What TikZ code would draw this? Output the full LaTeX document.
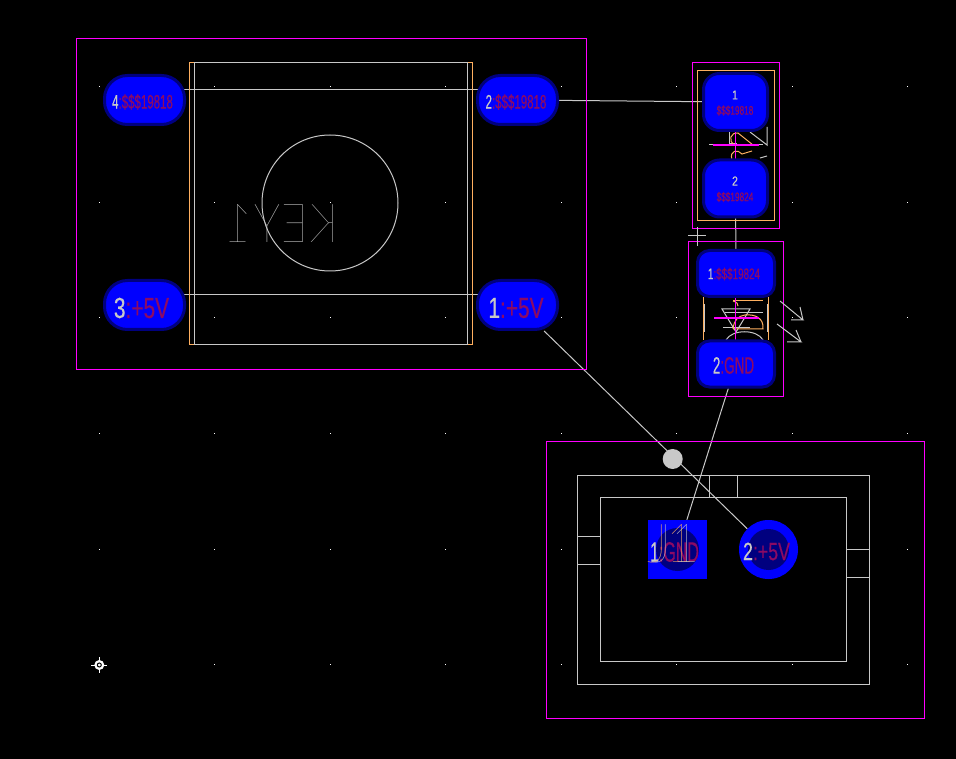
\documentclass[tikz,border=0pt]{standalone}
\usepackage{graphicx}
\usepackage{fontspec}
\setmainfont[FakeBold=0.4]{Liberation Sans}
\newfontfamily\thinfont{Lato Thin}
\usetikzlibrary{backgrounds}

\definecolor{padblue}{HTML}{0000FF}
\definecolor{padnavy}{HTML}{00007F}
\definecolor{silk}{HTML}{C8C8C8}
\definecolor{outline}{HTML}{FF00FF}
\definecolor{body}{HTML}{FFB060}
\definecolor{netred}{HTML}{8C0A64}

\tikzstyle{pad}=[draw=padnavy,fill=padblue,line width=3pt,inner sep=0pt]
\tikzstyle{bigpad}=[pad,minimum width=80pt,minimum height=49pt,rounded corners=23pt]
\tikzstyle{smdpad}=[pad,minimum width=64pt,minimum height=57pt,rounded corners=16pt]
\tikzstyle{ledpad}=[pad,minimum width=77pt,minimum height=46pt,rounded corners=12pt]
\tikzstyle{pintext}=[inner sep=0pt,text=silk]
\tikzstyle{wire}=[draw=silk,line width=1pt]
\tikzstyle{silkline}=[draw=silk,line width=1pt]
\tikzstyle{bodyline}=[draw=body,line width=1pt]
\tikzstyle{keepout}=[draw=outline,line width=1.1pt]

% size, x scale, pin, net
\newcommand{\pinnet}[4]{\scalebox{#2}[1]{\fontsize{#1}{#1}\selectfont #3\textcolor{netred}{:#4}}}
\newcommand{\netonly}[3]{\scalebox{#2}[1]{\fontsize{#1}{#1}\selectfont\textcolor{netred}{#3}}}

\begin{document}
\begin{tikzpicture}[x=1pt,y=-1pt]
  \useasboundingbox (0,0) rectangle (956,759);

  % KEY1 pads
  \node (k4) at (144.5,100) [bigpad] {};
  \node (k2) at (517.5,100) [bigpad] {};
  \node (k3) at (144.5,305) [bigpad] {};
  \node (k1) at (517.5,305) [bigpad] {};
  % resistor pads
  \node (r1) at (735.5,102) [smdpad] {};
  \node (r2) at (735.5,188.5) [smdpad] {};
  % led pads
  \node (d1) at (736,273.5) [ledpad] {};
  \node (d2) at (736,364) [ledpad] {};
  % connector pads
  \node (j1) at (677.5,549.5) [fill=padblue,minimum size=59pt,inner sep=0pt] {};
  \node (j2) at (768.5,549.5) [circle,fill=padblue,minimum size=59pt,inner sep=0pt] {};
  \node (j1h) at (j1) [circle,fill=padnavy,minimum size=43pt,inner sep=0pt] {};
  \node (j2h) at (j2) [circle,fill=padnavy,minimum size=41pt,inner sep=0pt] {};

  \begin{pgfonlayer}{background}
    \fill[black] (0,0) rectangle (956,759);
    \foreach \a in {99,214.5,330,445.5,561,676.5,792,907.5}{
      \foreach \b in {87,202.5,318,433.5,549,664.5}{
        \fill[white] (\a-0.5,\b-0.5) rectangle (\a+0.5,\b+0.5);
      }
    }
    % resistor silk
    \draw[silkline] (709,145) -- (763,145);
    \draw[silkline] (729,132) -- (729,144) -- (737,144);
    \draw[silkline] (750,132) -- (767,145) -- (767,127);
    \draw[silkline] (760,158) -- (767,156);
    \draw[bodyline] (753,145) -- (738,133) .. controls (731,132) and (727,141) .. (735,145);
    \draw[bodyline] (732,160) .. controls (729,150) and (738,149) .. (742,154) -- (752,151);
    \draw[keepout] (713,145) -- (759,145);
    \draw[keepout] (735.5,129) -- (735.5,162);
    % led silk
    \draw[bodyline] (703,297) -- (703,340);
    \draw[bodyline] (768,297) -- (768,340);
    \draw[silkline] (704.5,304) -- (704.5,332);
    \draw[silkline] (767,304) -- (767,332);
    \draw[bodyline] (733,301) -- (763,301);
    \draw[bodyline] (733,301) .. controls (737,302) and (738,304) .. (738,306);
    \draw[silkline] (722,309) -- (750,309) -- (736,332) -- cycle;
    \draw[silkline] (725,313) -- (763,313);
    \draw[silkline] (723,328) -- (750,328);
    \draw[bodyline] (733,329) -- (763,329) .. controls (764,318) and (755,314) .. (745,315) .. controls (738,316) and (734,320) .. (733,329);
    \draw[silkline] (726,340) .. controls (732,329) and (757,329) .. (763,340);
    \draw[keepout] (714,318) -- (759,318);
    \draw[keepout] (735.5,297) -- (735.5,342);
    % nets
    \draw[wire] ([yshift=10.5pt]k4.center) -- ([yshift=10.5pt]k2.center);
    \draw[wire] ([yshift=10.5pt]k3.center) -- ([yshift=10.5pt]k1.center);
    \draw[wire] (k2) -- (r1);
    \draw[wire] (r2) -- (d1);
    \draw[wire] (d2) -- (j1);
    \draw[wire] (k1) -- (j2);
  \end{pgfonlayer}

  % KEY1 outline
  \draw[keepout] (76.5,38.5) rectangle (586.5,369.5);
  \draw[bodyline] (189.5,62.5) rectangle (472.5,344.5);
  \draw[silkline] (194.5,62.5) rectangle (467.5,344.5);
  \draw[silkline] (330,203) circle (68);
  \node (keylabel) at (282,223) [inner sep=0pt,text=silk] {\scalebox{-0.85}[1]{\fontsize{54}{54}\thinfont\addfontfeature{LetterSpace=4}KEY1}};

  % resistor and led outlines
  \draw[keepout] (692.5,62.5) rectangle (779.5,228.5);
  \draw[bodyline] (697.5,70.5) rectangle (774.5,220.5);
  \draw[keepout] (688.5,241.5) rectangle (783.5,396.5);
  \draw[silkline] (688,236) -- (706,236);
  \draw[silkline] (697.5,227) -- (697.5,246);
  % led arrows
  \draw[silkline] (780,301) -- (803,320) -- (791,320);
  \draw[silkline] (803,320) -- (800,307);
  \draw[silkline] (777,324) -- (801,342) -- (787,342);
  \draw[silkline] (801,342) -- (796,330);

  % J1 outline
  \draw[keepout] (546.5,441.5) rectangle (924.5,718.5);
  \draw[silkline] (577.5,475.5) rectangle (869.5,684.5);
  \draw[silkline] (600.5,497.5) rectangle (846.5,661.5);
  \foreach \a in {536,564}{
    \draw[silkline] (577.5,\a) -- (600.5,\a);
  }
  \foreach \a in {549,577}{
    \draw[silkline] (846.5,\a) -- (869.5,\a);
  }
  \foreach \a in {709,737}{
    \draw[silkline] (\a,475.5) -- (\a,497.5);
  }

  % hole and origin
  \node (hole) at (672.7,459) [circle,fill=silk,minimum size=20pt,inner sep=0pt] {};
  \node (origin) at (99.3,665) [circle,fill=white,minimum size=10pt,inner sep=0pt] {};
  \draw[white,line width=1pt] (origin.center) +(-8,0) -- +(8,0) +(0,-8) -- +(0,8);
  \node (originhole) at (origin) [circle,draw=black,fill=white,line width=1pt,minimum size=4pt,inner sep=0pt] {};

  % pad labels
  \node (k4t) at (142.5,102) [pintext] {\pinnet{19.5}{0.59}{4}{\$\$\$19818}};
  \node (k2t) at (516,102) [pintext] {\pinnet{19.5}{0.59}{2}{\$\$\$19818}};
  \node (k3t) at (141.5,308) [pintext] {\pinnet{29}{0.72}{3}{+5V}};
  \node (k1t) at (516,308) [pintext] {\pinnet{29}{0.72}{1}{+5V}};
  \node (r1n) at (735,95) [pintext] {\scalebox{0.8}[1]{\fontsize{13}{13}\selectfont 1}};
  \node (r1t) at (735,110.5) [pintext] {\netonly{12.5}{0.66}{\$\$\$19818}};
  \node (r2n) at (735,181) [pintext] {\scalebox{0.8}[1]{\fontsize{13}{13}\selectfont 2}};
  \node (r2t) at (735,197) [pintext] {\netonly{12.5}{0.66}{\$\$\$19824}};
  \node (d1t) at (734,274) [pintext] {\pinnet{15.4}{0.64}{1}{\$\$\$19824}};
  \node (d2t) at (733.5,365.5) [pintext] {\pinnet{23.7}{0.57}{2}{GND}};
  \node (j1t) at (674.5,552) [pintext] {\pinnet{28}{0.57}{1}{GND}};
  \node (j2t) at (766.5,551.5) [pintext] {\pinnet{25}{0.71}{2}{+5V}};
  \node (j1o) at (671,544) [inner sep=0pt,text=body] {\scalebox{0.9}[1]{\fontsize{54}{54}\thinfont J1}};
  \node (j1n) at (675.5,544) [pintext] {\scalebox{0.9}[1]{\fontsize{54}{54}\thinfont J1}};
\end{tikzpicture}
\end{document}
